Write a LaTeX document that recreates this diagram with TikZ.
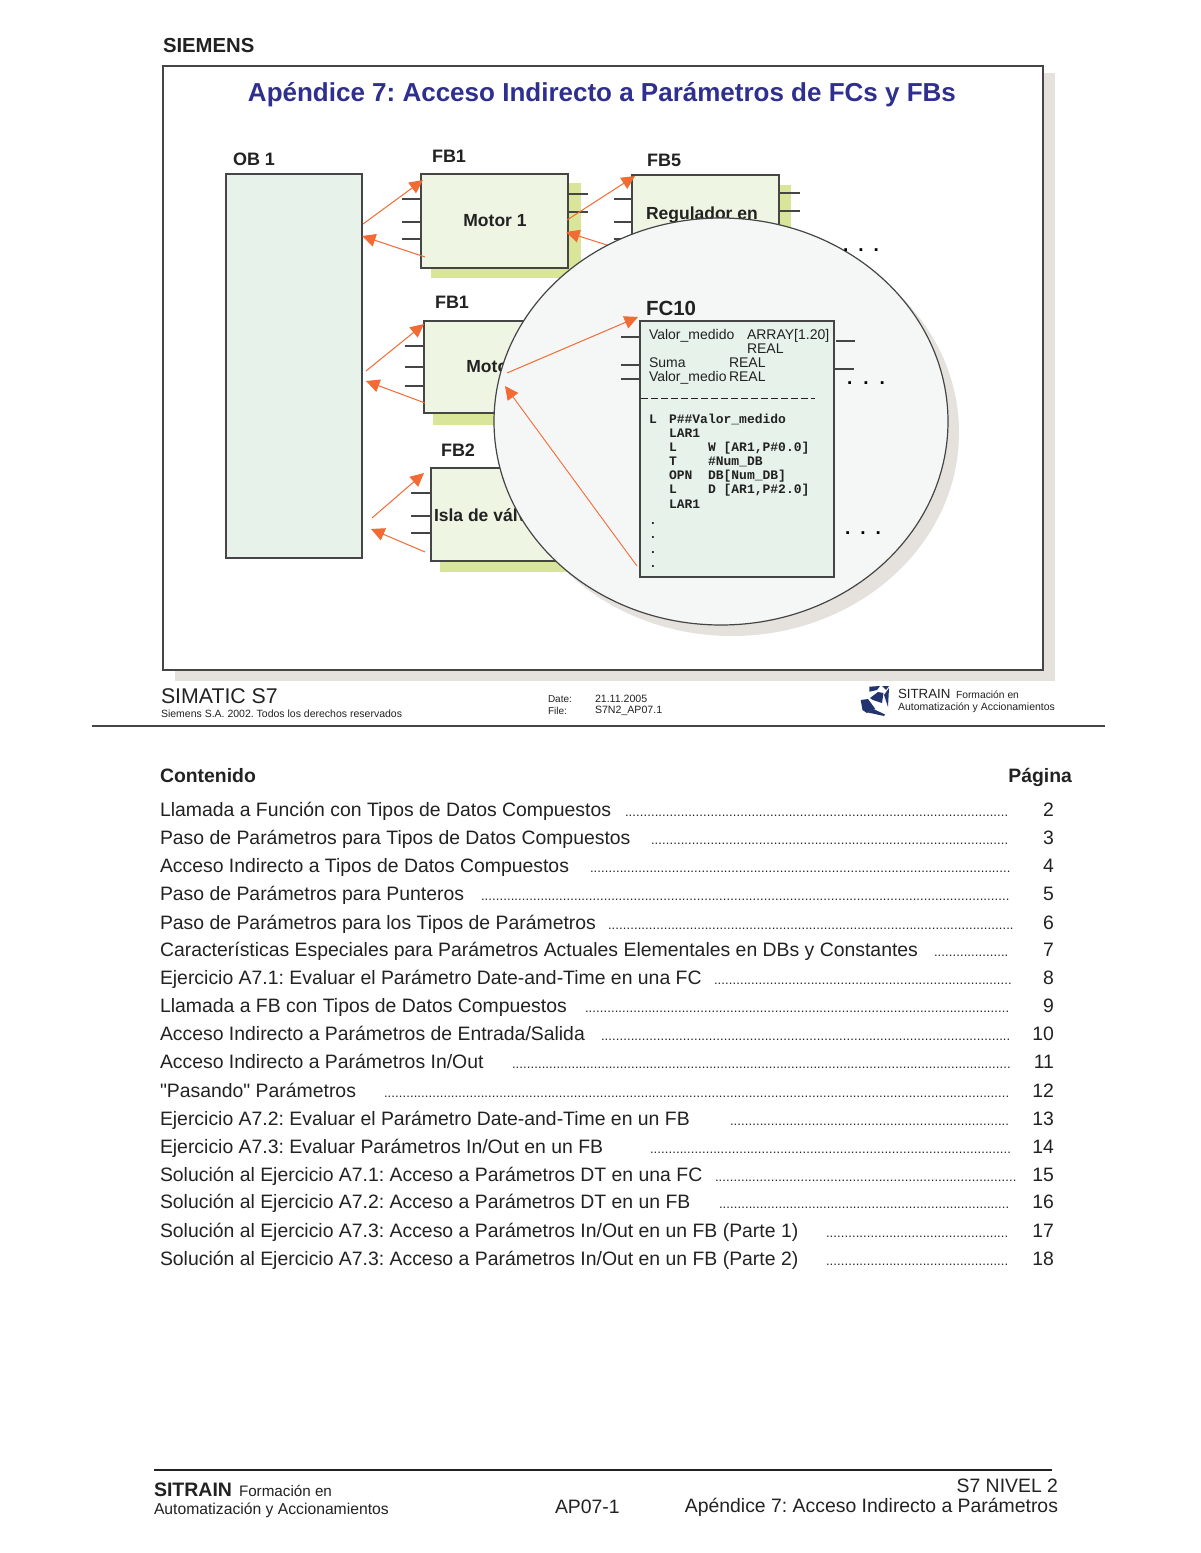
\documentclass[tikz,border=0pt]{standalone}
\usepackage{fontspec}
\setmainfont{Liberation Sans}
\setmonofont{Liberation Mono}
\newfontfamily\plainsans{Liberation Sans}
\usetikzlibrary{arrows.meta,shapes.geometric}
\definecolor{slideblue}{HTML}{2F2F8F}
\definecolor{lineorange}{HTML}{F26B35}
\definecolor{fbfill}{HTML}{EFF5E3}
\definecolor{fbshadow}{HTML}{D9E598}
\definecolor{obfill}{HTML}{E6F2EA}
\definecolor{lensfill}{HTML}{F5F7F7}
\definecolor{slideshadow}{HTML}{E5E2DE}
\definecolor{edgegray}{HTML}{454545}
\definecolor{textgray}{HTML}{222222}
\definecolor{logoblue}{HTML}{22336E}
\newcommand{\fsz}[1]{\fontsize{#1}{#1}\selectfont}
\newcommand{\leaderdots}[1]{\hbox to #1pt{\leaders\hbox to 3.72pt{.\hss}\hfill}}
\begin{document}
\frenchspacing
\begin{tikzpicture}[
  x=1pt, y=-1pt,
  every node/.style={outer sep=0pt},
  fbox/.style={draw=edgegray, line width=1.4pt, rectangle, fill=fbfill, anchor=north west, inner sep=0pt},
  obox/.style={draw=edgegray, line width=1.4pt, rectangle, fill=obfill, anchor=north west, inner sep=0pt},
  shadowbox/.style={rectangle, fill=fbshadow, anchor=north west, inner sep=0pt},
  head/.style={text=textgray, font=\fsz{18}\bfseries, anchor=west, inner sep=0pt},
  inbox/.style={text=textgray, font=\fsz{17.5}\bfseries, inner sep=0pt},
  arrow/.style={-{Triangle[length=13.5pt,width=13pt]}, lineorange, line width=1pt},
  stub/.style={edgegray, line width=1.3pt},
  more/.style={text=black, font=\fsz{19}\bfseries, inner sep=0pt},
  param/.style={text=textgray, font=\fsz{14}, anchor=base west, inner sep=0pt},
  code/.style={text=textgray, font=\fsz{13}\ttfamily\bfseries, anchor=base west, inner sep=0pt},
  row/.style={text=textgray, font=\fsz{19.4}, anchor=base west, inner sep=0pt},
  dots/.style={text=textgray, font=\fsz{13}, anchor=base west, inner sep=0pt},
  pagenr/.style={text=textgray, font=\fsz{19.4}, anchor=base east, inner sep=0pt},
  small/.style={text=textgray, anchor=west, inner sep=0pt}
]
\useasboundingbox (0,0) rectangle (1200,1553);
\fill[white] (0,0) rectangle (1200,1553);

% Slide
\node[text=textgray, font=\fsz{20.3}\bfseries, anchor=west, inner sep=0pt] (brand) at (163,46) {SIEMENS};
\node[rectangle, fill=slideshadow, anchor=north west, inner sep=0pt, minimum width=880pt, minimum height=608pt] (frameshadow) at (175,73) {};
\node[rectangle, draw=edgegray, line width=1.5pt, fill=white, anchor=north west, inner sep=0pt, minimum width=880pt, minimum height=604pt] (frame) at (163,66) {};
\node[text=slideblue, font=\fsz{26}\bfseries, inner sep=0pt] (title) at (602,94.5) {Apéndice 7: Acceso Indirecto a Parámetros de FCs y FBs};

% Shadows of the blocks
\node[shadowbox, minimum width=150pt, minimum height=95pt] (motorAshadow) at (431,183) {};
\node[shadowbox, minimum width=150pt, minimum height=95pt] (regshadow) at (641,185) {};
\node[shadowbox, minimum width=150pt, minimum height=95pt] (motorBshadow) at (433,330) {};
\node[shadowbox, minimum width=150pt, minimum height=95pt] (islashadow) at (440,477) {};

% Blocks
\node[obox, minimum width=136pt, minimum height=384pt] (ob) at (226,174) {};
\node[fbox, minimum width=147pt, minimum height=94pt] (motorA) at (421,174) {};
\node[fbox, minimum width=147pt, minimum height=94pt] (reg) at (632,175) {};
\node[fbox, minimum width=147pt, minimum height=92pt] (motorB) at (424,321) {};
\node[fbox, minimum width=147pt, minimum height=93pt] (isla) at (431,468) {};

\node[head] (oblabel) at (233,159) {OB 1};
\node[head] (motorAlabel) at (432,156) {FB1};
\node[head] (reglabel) at (647,160) {FB5};
\node[head] (motorBlabel) at (435,302) {FB1};
\node[head] (islalabel) at (441,450) {FB2};

\node[inbox] (motorAtext) at (495,221) {Motor 1};
\node[inbox, anchor=west] (regtext) at (646,215) {Regulador en};
\node[inbox] (motorBtext) at (498,367) {Motor 1};
\node[inbox, anchor=west] (islatext) at (434,515) {Isla de válvulas};

% Stubs
\foreach \y in {199,222,239} \draw[stub] (motorA.west |- 0,\y) -- ++(-19,0);
\foreach \y in {194,212} \draw[stub] (motorA.east |- 0,\y) -- ++(20,0);
\foreach \y in {199,222,239} \draw[stub] (reg.west |- 0,\y) -- ++(-18,0);
\foreach \y in {193,211} \draw[stub] (reg.east |- 0,\y) -- ++(21,0);
\foreach \y in {346,367,386} \draw[stub] (motorB.west |- 0,\y) -- ++(-19,0);
\foreach \y in {493,516,533} \draw[stub] (isla.west |- 0,\y) -- ++(-20,0);

% Call arrows
\coordinate (obOutA) at (363,224);
\coordinate (motorAIn) at (423,180);
\coordinate (motorAOut) at (425,257);
\coordinate (obInA) at (362,236);
\coordinate (motorACall) at (567,220);
\coordinate (regIn) at (635,176);
\coordinate (regOut) at (632,253);
\coordinate (motorARet) at (566,232);
\coordinate (obOutB) at (366,371);
\coordinate (motorBIn) at (424,324);
\coordinate (motorBOut) at (425,403);
\coordinate (obInB) at (366,381);
\coordinate (obOutC) at (372,518);
\coordinate (islaIn) at (424,473);
\coordinate (islaOut) at (425,552);
\coordinate (obInC) at (371,529);
\draw[arrow] (obOutA) -- (motorAIn);
\draw[arrow] (motorAOut) -- (obInA);
\draw[arrow] (motorACall) -- (regIn);
\draw[arrow] (regOut) -- (motorARet);
\draw[arrow] (obOutB) -- (motorBIn);
\draw[arrow] (motorBOut) -- (obInB);
\draw[arrow] (obOutC) -- (islaIn);
\draw[arrow] (islaOut) -- (obInC);

% Magnifier
\node[ellipse, fill=slideshadow, inner sep=0pt, minimum width=454pt, minimum height=407pt] (lensshadow) at (732,432.5) {};
\node[ellipse, draw=edgegray, line width=1.2pt, fill=lensfill, inner sep=0pt, minimum width=454pt, minimum height=407pt] (lens) at (721,421.5) {};

\node[obox, minimum width=194pt, minimum height=256pt] (fc) at (640,321) {};
\node[text=textgray, font=\fsz{20.5}\bfseries, anchor=west, inner sep=0pt] (fclabel) at (646,308) {FC10};
\foreach \y in {337,365,379} \draw[stub] (fc.west |- 0,\y) -- ++(-19,0);
\draw[stub] (fc.east |- 0,341) ++(2,0) -- ++(19,0);
\draw[stub] (fc.east |- 0,369) -- ++(20,0);

\coordinate (lensOut) at (507,373);
\coordinate (fcIn) at (638,317);
\coordinate (fcOut) at (637,566);
\coordinate (lensIn) at (505,386);
\draw[arrow] (lensOut) -- (fcIn);
\draw[arrow, line width=0.9pt] (fcOut) -- (lensIn);

% Parameters of FC10
\node[param] (parA) at (649,339) {Valor\_medido};
\node[param] (typeA) at (747,339) {ARRAY[1.20]};
\node[param] (typeB) at (747,353) {REAL};
\node[param] (parC) at (649,367) {Suma};
\node[param] (typeC) at (729,367) {REAL};
\node[param] (parD) at (649,381) {Valor\_medio};
\node[param] (typeD) at (729,381) {REAL};
\coordinate (cutL) at (641,398);
\coordinate (cutR) at (815,398);
\draw[textgray, line width=1pt, dash pattern=on 6.5pt off 3.5pt] (cutL) -- (cutR);

% Code of FC10
\node[code] (opA) at (649,423) {L};
\node[code] (argA) at (669,423) {P\#\#Valor\_medido};
\foreach \n/\y/\op/\arg in {B/437/LAR1/, C/451/L/W [AR1{,}P\#0.0], D/465/T/\#Num\_DB, E/479/OPN/DB[Num\_DB], F/493/L/D [AR1{,}P\#2.0], G/508/LAR1/} {
  \node[code] (op\n) at (669,\y) {\op};
  \node[code] (arg\n) at (708,\y) {\arg};
}
\foreach \n/\y in {a/524,b/538,c/553,d/567} \node[code] (cont\n) at (649,\y) {.};

% More blocks
\node[more] (moreA) at (861,250) {.\hspace{10pt}.\hspace{10pt}.};
\node[more] (moreB) at (866,383) {.\hspace{11pt}.\hspace{11pt}.};
\node[more] (moreC) at (863,533) {.\hspace{10pt}.\hspace{10pt}.};

% Slide footer
\node[small, font=\fsz{21.3}] (simatic) at (161,696) {SIMATIC S7};
\node[small, font=\fsz{10.5}] (rights) at (161,714) {Siemens S.A. 2002. Todos los derechos reservados};
\node[small, font=\fsz{10}] (datekey) at (548,699) {Date:};
\node[small, font=\fsz{10.6}] (dateval) at (595,699) {21.11.2005};
\node[small, font=\fsz{10}] (filekey) at (548,711) {File:};
\node[small, font=\fsz{10.6}] (fileval) at (595,711) {S7N2\_AP07.1};
\fill[logoblue] (869.3,686.7) -- (880,686) -- (877,690) -- (869.3,691.7) -- cycle;
\fill[logoblue] (882,686) -- (889,686) -- (886,690) -- cycle;
\fill[logoblue] (889,688) -- (888,707) -- (884,695) -- cycle;
\fill[logoblue] (878,692) -- (883.5,693) -- (882,703) -- (873,700) -- (870,698) -- cycle;
\fill[logoblue] (860.7,700) -- (868,699) -- (875,708.5) -- (867,713) -- (862.5,710) -- cycle;
\fill[logoblue] (868,712.5) -- (873.5,709) -- (885,714.5) -- (884,716) -- cycle;
\node[small, font=\fsz{13.3}] (sitrain) at (898,694) {SITRAIN};
\node[small, font=\fsz{10.3}] (sitrainA) at (956,695) {Formación en};
\node[small, font=\fsz{10.5}] (sitrainB) at (898,708) {Automatización y Accionamientos};
\coordinate (ruleL) at (92,726);
\coordinate (ruleR) at (1105,726);
\draw[edgegray, line width=1.4pt] (ruleL) -- (ruleR);

% Contents
\node[text=textgray, font=\fsz{19.4}\bfseries, anchor=base west, inner sep=0pt] (contenido) at (160,782) {Contenido};
\node[text=textgray, font=\fsz{19.4}\bfseries, anchor=base east, inner sep=0pt] (pagina) at (1072,782) {Página};
\foreach \i/\y/\s/\e/\t in {
  2/816/625/1008/Llamada a Función con Tipos de Datos Compuestos,
  3/844.5/651/1008/Paso de Parámetros para Tipos de Datos Compuestos,
  4/872.5/590/1008/Acceso Indirecto a Tipos de Datos Compuestos,
  5/900.5/481/1008/Paso de Parámetros para Punteros,
  6/929/608/1010/Paso de Parámetros para los Tipos de Parámetros,
  7/956/934/1008/Características Especiales para Parámetros Actuales Elementales en DBs y Constantes,
  8/984/714/1008/Ejercicio A7.1: Evaluar el Parámetro Date-and-Time en una FC,
  9/1012/585/1008/Llamada a FB con Tipos de Datos Compuestos,
  10/1040.5/601/1008/{Acceso Indirecto a Parámetros de Entrada/Salida},
  11/1068.5/512/1008/{Acceso Indirecto a Parámetros In/Out},
  12/1097/384/1008/{{\plainsans"}Pasando{\plainsans"} Parámetros},
  13/1125.5/730/1008/Ejercicio A7.2: Evaluar el Parámetro Date-and-Time en un FB,
  14/1153.5/650/1008/{Ejercicio A7.3: Evaluar Parámetros In/Out en un FB},
  15/1181.5/715/1014/Solución al Ejercicio A7.1: Acceso a Parámetros DT en una FC,
  16/1208.5/719/1008/Solución al Ejercicio A7.2: Acceso a Parámetros DT en un FB,
  17/1237/826/1008/{Solución al Ejercicio A7.3: Acceso a Parámetros In/Out en un FB (Parte 1)},
  18/1265/826/1008/{Solución al Ejercicio A7.3: Acceso a Parámetros In/Out en un FB (Parte 2)}} {
  \pgfmathsetmacro{\w}{\e-\s+3.7}
  \node[row] (row\i) at (160,\y) {\t};
  \node[dots] (dots\i) at (\s,\y) {\leaderdots{\w}};
  \node[pagenr] (page\i) at (1054,\y) {\i};
}

% Page footer
\coordinate (footL) at (154,1470);
\coordinate (footR) at (1052,1470);
\draw[textgray, line width=2.4pt] (footL) -- (footR);
\node[small, font=\fsz{19.5}\bfseries] (footsitrain) at (154,1490) {SITRAIN};
\node[small, font=\fsz{15.2}] (footform) at (239,1491) {Formación en};
\node[small, font=\fsz{15.7}] (footauto) at (154,1510.5) {Automatización y Accionamientos};
\node[small, font=\fsz{19.4}] (footpage) at (555,1507) {AP07-1};
\node[small, font=\fsz{19.4}, anchor=east] (footlevel) at (1058,1486) {S7 NIVEL 2};
\node[small, font=\fsz{19.4}, anchor=east] (foottitle) at (1058,1507) {Apéndice 7: Acceso Indirecto a Parámetros};
\end{tikzpicture}
\end{document}
